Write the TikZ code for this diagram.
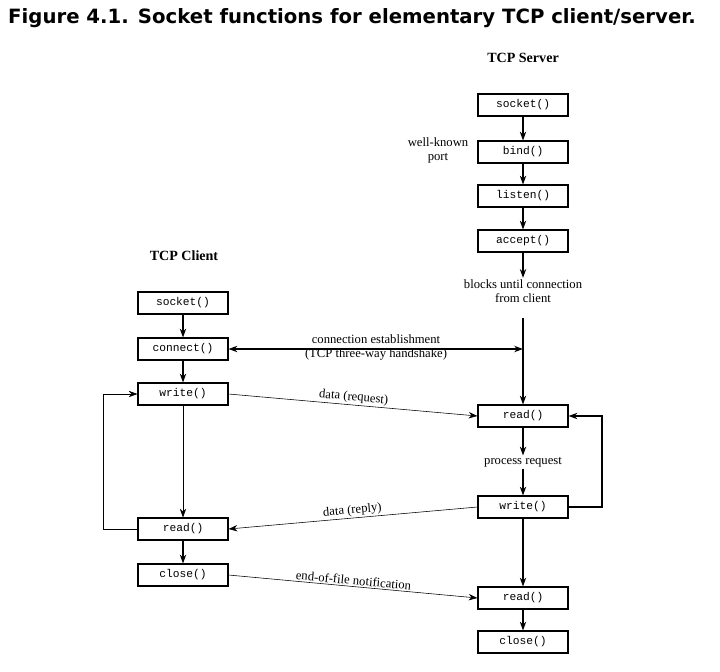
\documentclass[tikz,border=0pt]{standalone}
\usepackage{fontspec}
\setmainfont{Liberation Serif}
\setmonofont{Liberation Mono}
\newfontfamily\titlefont{DejaVu Sans}
\usetikzlibrary{arrows.meta, positioning}

\begin{document}
\begin{tikzpicture}[
x=0.025cm, y=-0.025cm,
box/.style={draw, thick, rectangle, minimum width=2.25cm, minimum height=0.55cm, font=\ttfamily\fontsize{8}{9}\selectfont, inner sep=1pt},
lbl/.style={font=\fontsize{9}{10}\selectfont, align=center, inner sep=1pt},
arrow/.style={-{Stealth[length=2.2mm,width=1.6mm]}, thick} ]

\useasboundingbox (0,0) rectangle (720,671);

\node[font=\titlefont\bfseries\fontsize{14}{16}\selectfont] (title) at (352,18) {Figure 4.1. Socket functions for elementary TCP client/server.};

% server
\node[lbl, font=\bfseries\fontsize{10}{12}\selectfont] (srv) at (523,58) {TCP Server};
\node[box] (ssocket) at (523,105) {socket()};
\node[box] (sbind) at (523,152) {bind()};
\node[box] (slisten) at (523,196) {listen()};
\node[box] (saccept) at (523,241) {accept()};
\node[lbl] (wkp) at (438,150) {well-known\\port};
\node[lbl] (blocks) at (523,291) {blocks until connection\\from client};
\coordinate (sline) at (523,318);
\node[box] (sread) at (523,416) {read()};
\node[lbl] (proc) at (523,462) {process request};
\node[box] (swrite) at (523,507) {write()};
\node[box] (sread2) at (523,598) {read()};
\node[box] (sclose) at (523,642) {close()};

% client
\node[lbl, font=\bfseries\fontsize{10}{12}\selectfont] (cli) at (184,256) {TCP Client};
\node[box] (csocket) at (183,303) {socket()};
\node[box] (cconnect) at (183,349) {connect()};
\node[box] (cwrite) at (183,394) {write()};
\node[box] (cread) at (183,529) {read()};
\node[box] (cclose) at (183,575) {close()};

\draw[arrow] (ssocket) -- (sbind);
\draw[arrow] (sbind) -- (slisten);
\draw[arrow] (slisten) -- (saccept);
\draw[arrow] (saccept) -- (blocks);
\draw[arrow] (sline) -- (sread);
\draw[arrow] (sread) -- (proc);
\draw[arrow] (proc) -- (swrite);
\draw[arrow] (swrite) -- (sread2);
\draw[arrow] (sread2) -- (sclose);
\draw[arrow] (swrite.east) -- (602,507) -- (602,416) -- (sread.east);

\draw[arrow] (csocket) -- (cconnect);
\draw[arrow] (cconnect) -- (cwrite);
\draw[arrow, thin] (cwrite) -- (cread);
\draw[arrow] (cread) -- (cclose);
\draw[arrow, thin] (cread.west) -- (103,529) -- (103,394) -- (cwrite.west);

\draw[{Stealth[length=2.2mm,width=1.6mm]}-{Stealth[length=2.2mm,width=1.6mm]}, thick] (cconnect.east) -- (sline |- cconnect);
\node[lbl] (conn) at (376,347) {connection establishment\\(TCP three-way handshake)};
\draw[arrow, thin] (cwrite.east) -- node[lbl, above, sloped] {data (request)} (sread.west);
\draw[arrow, thin] (swrite.west) -- node[lbl, above, sloped] {data (reply)} (cread.east);
\draw[arrow, thin] (cclose.east) -- node[lbl, above, sloped] {end-of-file notification} (sread2.west);
\end{tikzpicture}
\end{document}
